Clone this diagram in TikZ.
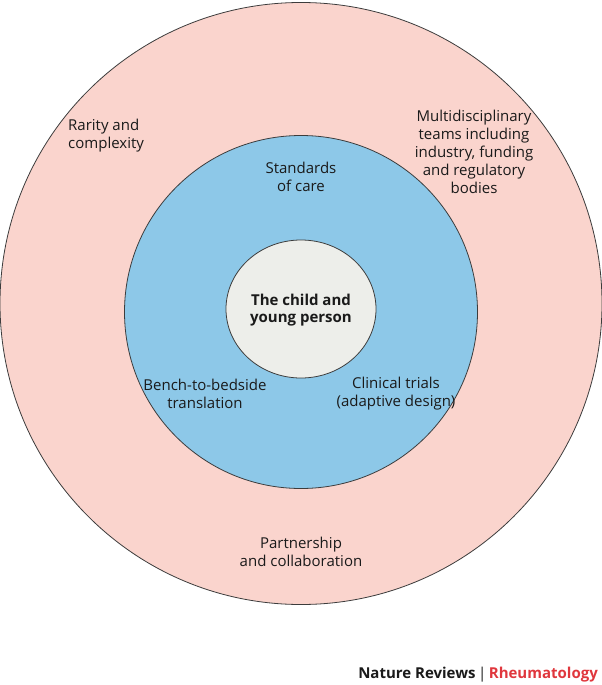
\documentclass[tikz,border=0pt]{standalone}
\usepackage{fontspec}
\setmainfont{Open Sans}
\definecolor{outerpink}{HTML}{FAD4CD}
\definecolor{midblue}{HTML}{8DC8E8}
\definecolor{innergray}{HTML}{EDEEEA}
\definecolor{edgegray}{HTML}{3C3C3C}
\definecolor{natred}{HTML}{E0373D}
\definecolor{txt}{HTML}{1A1A1A}
\begin{document}
\begin{tikzpicture}[x=1pt,y=-1pt,
  ring/.style={draw=edgegray, line width=0.8pt},
  lbl/.style={text=txt, font=\fontsize{15}{18}\selectfont, align=center, inner sep=0pt},
  lblb/.style={text=txt, font=\fontsize{15}{17.5}\selectfont\bfseries, align=center, inner sep=0pt}]
\useasboundingbox[fill=white] (0,0) rectangle (602,685);
\filldraw[ring, fill=outerpink] (301,303.5) circle[radius=301pt];
\filldraw[ring, fill=midblue] (301,312) circle[radius=176.5pt];
\filldraw[ring, fill=innergray] (301,309) ellipse[x radius=75pt, y radius=69pt];

\node[lbl, align=left, anchor=west] (rarity) at (68,136) {Rarity and\\complexity};
\node[lbl] (multi) at (474,152) {Multidisciplinary\\teams including\\industry, funding\\and regulatory\\bodies};
\node[lbl] (standards) at (301,177) {Standards\\of care};
\node[lblb] (child) at (301,310) {The child and\\young person};
\node[lbl] (bench) at (205,394) {Bench-to-bedside\\translation};
\node[lbl] (trials) at (396,394) {Clinical trials\\(adaptive design)};
\node[lbl] (partner) at (301,552) {Partnership\\and collaboration};
\node[anchor=base east, inner sep=0pt, font=\fontsize{15}{18}\selectfont] (footer) at (598,678)
  {\textbf{\color{txt}Nature Reviews}\,{\color{txt}|}\,\textbf{\color{natred}Rheumatology}};
\end{tikzpicture}
\end{document}
